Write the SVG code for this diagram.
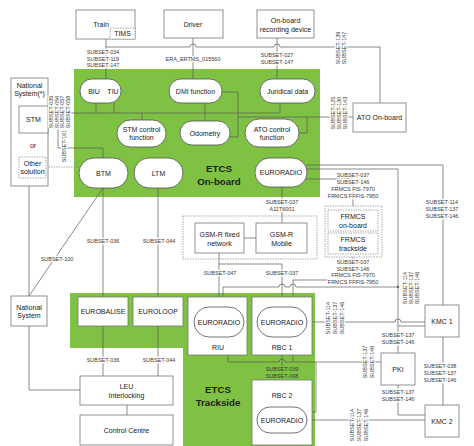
<svg xmlns="http://www.w3.org/2000/svg" width="474" height="446" viewBox="0 0 474 446">
<style>
text{font-family:"Liberation Sans",Arial,sans-serif;fill:#222;text-anchor:middle;dominant-baseline:central}
.n{font-size:7px}
.b{font-size:9.7px;font-weight:bold;fill:#1e1e1e}
.l{font-size:5.5px;fill:#3a3a3a;stroke:#fff;stroke-width:2.4px;paint-order:stroke;stroke-linejoin:round}
.lg{stroke:#7ec143}
.box{fill:#fff;stroke:#777;stroke-width:0.8}
.pill{fill:#fff;stroke:#505050;stroke-width:0.8}
.dash{fill:#fff;stroke:#888;stroke-width:0.7;stroke-dasharray:1.5 1}
.dashn{fill:none;stroke:#888;stroke-width:0.7;stroke-dasharray:1.5 1}
.c{fill:none;stroke:#5a5a5a;stroke-width:0.7}
.green{fill:#7ec143}
</style>
<rect width="474" height="446" fill="#fff"/>

<g id="etcs-onboard">
<rect class="green" x="74" y="69" width="246" height="128"/>
<text class="b" x="219" y="168">ETCS</text>
<text class="b" x="219" y="181">On-board</text>
</g>
<g id="etcs-trackside">
<path class="green" d="M70,293 H315 V446 H183 V348 H70 Z"/>
<text class="b" x="218" y="389">ETCS</text>
<text class="b" x="218" y="402">Trackside</text>
</g>

<g id="connectors">
<path class="c" d="M106,39 V79"/>
<path class="c" d="M106,47 H190 a3,3 0 0 1 6,0 H274 a3,3 0 0 1 6,0 H380 V103"/>
<path class="c" d="M193,38 V79"/>
<path class="c" d="M277,38 V79"/>
<path class="c" d="M48,113 H280 V103"/>
<path class="c" d="M96,103 V113 M114,103 V113"/>
<path class="c" d="M142,113 V120"/>
<path class="c" d="M205,103 V121"/>
<path class="c" d="M222,92 H238 V137 H230"/>
<path class="c" d="M238,117 H353"/>
<path class="c" d="M299,133 H307 V117"/>
<path class="c" d="M48,128 H58 V148 H103 V158"/>
<path class="dashn" d="M46,167 H79"/>
<path class="c" d="M29,186 V296"/>
<path class="c" d="M103,188 L29,296"/>
<path class="c" d="M103,188 V297 M103,326 V376"/>
<path class="c" d="M158,188 V297 M158,326 V376"/>
<path class="c" d="M29,326 V390 H80"/>
<path class="c" d="M127,405 V415"/>
<path class="c" d="M282,187 V223"/>
<path class="c" d="M244,238 H256"/>
<path class="c" d="M219,253 V307"/>
<path class="c" d="M219,264 H282 V307"/>
<path class="c" d="M306,165 H443 V305"/>
<path class="c" d="M306,169 H398 V353"/>
<path class="c" d="M425,326 H398"/>
<path class="c" d="M223,307 V287 H279 a3,3 0 0 1 6,0 H290 a3,3 0 0 1 6,0 H398"/>
<circle cx="398" cy="287" r="1.2" fill="#5a5a5a"/>
<path class="c" d="M306,179 H353 V206"/>
<path class="c" d="M353,257 V280 H293 V307"/>
<path class="c" d="M307,322 H395 a3,3 0 0 1 6,0 H425"/>
<path class="c" d="M228,355 V362 H279 a3,3 0 0 1 6,0 H381"/>
<path class="c" d="M293,355 V362 M312,412 H316 V362"/>
<path class="c" d="M282,355 V380"/>
<path class="c" d="M307,420 H425"/>
<path class="c" d="M398,385 V415 H425"/>
<path class="c" d="M443,337 V405"/>
</g>

<g id="train">
<rect class="box" x="76" y="10" width="59" height="29"/>
<text class="n" x="101" y="24">Train</text>
<rect class="dash" x="110" y="28" width="25" height="11"/>
<text class="n" x="122.5" y="33.5">TIMS</text>
</g>
<g id="driver">
<rect class="box" x="164" y="10" width="59" height="28"/>
<text class="n" x="193" y="24">Driver</text>
</g>
<g id="recording">
<rect class="box" x="257" y="10" width="57" height="28"/>
<text class="n" x="285.5" y="20.5">On-board</text>
<text class="n" x="285.5" y="29">recording device</text>
</g>
<g id="national-star">
<rect class="box" x="11" y="78" width="37" height="108"/>
<text class="n" x="29.5" y="85">National</text>
<text class="n" x="29.5" y="93">System(*)</text>
<text class="n" x="33" y="145">or</text>
</g>
<g id="stm">
<rect class="box" x="19" y="106" width="29" height="27"/>
<text class="n" x="33.5" y="119.5">STM</text>
</g>
<g id="other-solution">
<rect class="dash" x="19" y="157" width="27" height="21"/>
<text class="n" x="32.5" y="163.5">Other</text>
<text class="n" x="32.5" y="171.5">solution</text>
</g>
<g id="biu-tiu">
<rect class="pill" x="80" y="79" width="41" height="24" rx="12"/>
<text class="n" x="94" y="91">BIU</text>
<text class="n" x="113" y="91">TIU</text>
</g>
<g id="dmi">
<rect class="pill" x="169" y="79" width="53" height="24" rx="12"/>
<text class="n" x="195.5" y="91">DMI function</text>
</g>
<g id="juridical">
<rect class="pill" x="260" y="79" width="55" height="24" rx="12"/>
<text class="n" x="287.5" y="91">Juridical data</text>
</g>
<g id="stm-control">
<rect class="pill" x="117" y="120" width="49" height="27" rx="13.5"/>
<text class="n" x="141.5" y="129.5">STM control</text>
<text class="n" x="141.5" y="137.5">function</text>
</g>
<g id="odometry">
<rect class="pill" x="180" y="121" width="50" height="24" rx="12"/>
<text class="n" x="205" y="133">Odometry</text>
</g>
<g id="ato-control">
<rect class="pill" x="245" y="119" width="54" height="28" rx="14"/>
<text class="n" x="272" y="129">ATO control</text>
<text class="n" x="272" y="137.5">function</text>
</g>
<g id="ato-onboard">
<rect class="box" x="353" y="103" width="53" height="29"/>
<text class="n" x="379.5" y="117.5">ATO On-board</text>
</g>
<g id="btm">
<rect class="pill" x="79" y="158" width="49" height="30" rx="15"/>
<text class="n" x="103.5" y="173">BTM</text>
</g>
<g id="ltm">
<rect class="pill" x="134" y="158" width="49" height="30" rx="15"/>
<text class="n" x="158.5" y="173">LTM</text>
</g>
<g id="euroradio-onboard">
<rect class="pill" x="255" y="158" width="52" height="29" rx="14.5"/>
<text class="n" x="281" y="172.5">EURORADIO</text>
</g>
<g id="gsmr">
<rect class="dashn" x="183" y="216" width="134" height="43"/>
<rect class="box" x="195" y="223" width="49" height="30"/>
<text class="n" x="219.5" y="234">GSM-R fixed</text>
<text class="n" x="219.5" y="243">network</text>
<rect class="box" x="256" y="223" width="51" height="30"/>
<text class="n" x="281.5" y="234">GSM-R</text>
<text class="n" x="281.5" y="243">Mobile</text>
</g>
<g id="frmcs">
<rect class="dashn" x="325" y="206" width="57" height="51"/>
<rect class="dash" x="328" y="210" width="50" height="21"/>
<text class="n" x="353" y="216.5">FRMCS</text>
<text class="n" x="353" y="225">on-board</text>
<rect class="dash" x="328" y="233" width="50" height="21"/>
<text class="n" x="353" y="239.5">FRMCS</text>
<text class="n" x="353" y="248">trackside</text>
</g>
<g id="national">
<rect class="box" x="11" y="296" width="36" height="30"/>
<text class="n" x="29" y="307">National</text>
<text class="n" x="29" y="315.5">System</text>
</g>
<g id="eurobalise">
<rect class="box" x="78" y="297" width="50" height="29"/>
<text class="n" x="103" y="311.5">EUROBALISE</text>
</g>
<g id="euroloop">
<rect class="box" x="133" y="297" width="50" height="29"/>
<text class="n" x="158" y="311.5">EUROLOOP</text>
</g>
<g id="leu">
<rect class="box" x="80" y="376" width="93" height="29"/>
<text class="n" x="126.5" y="386.5">LEU</text>
<text class="n" x="126.5" y="395.5">Interlocking</text>
</g>
<g id="control-centre">
<rect class="box" x="80" y="415" width="93" height="30"/>
<text class="n" x="126.5" y="430">Control Centre</text>
</g>
<g id="riu">
<rect class="box" x="188" y="297" width="59" height="58"/>
<rect class="pill" x="194" y="307" width="50" height="30" rx="15"/>
<text class="n" x="219" y="322">EURORADIO</text>
<text class="n" x="218" y="347">RIU</text>
</g>
<g id="rbc1">
<rect class="box" x="252" y="297" width="60" height="58"/>
<rect class="pill" x="257" y="307" width="50" height="30" rx="15"/>
<text class="n" x="282" y="322">EURORADIO</text>
<text class="n" x="282" y="347">RBC 1</text>
</g>
<g id="rbc2">
<rect class="box" x="252" y="380" width="60" height="65"/>
<text class="n" x="282" y="395">RBC 2</text>
<rect class="pill" x="257" y="407" width="50" height="26" rx="13"/>
<text class="n" x="282" y="420">EURORADIO</text>
</g>
<g id="pki">
<rect class="box" x="381" y="353" width="34" height="32"/>
<text class="n" x="398" y="369">PKI</text>
</g>
<g id="kmc1">
<rect class="box" x="425" y="305" width="34" height="32"/>
<text class="n" x="442" y="321">KMC 1</text>
</g>
<g id="kmc2">
<rect class="box" x="425" y="405" width="34" height="32"/>
<text class="n" x="442" y="421">KMC 2</text>
</g>

<g id="labels">
<text class="l" x="103" y="52">SUBSET-034</text>
<text class="l" x="103" y="58.5">SUBSET-119</text>
<text class="l" x="103" y="65">SUBSET-147</text>
<text class="l" x="193" y="59">ERA_ERTMS_015560</text>
<text class="l" x="277" y="55">SUBSET-027</text>
<text class="l" x="277" y="62">SUBSET-147</text>
<text class="l" transform="translate(338,48) rotate(-90)">SUBSET-139</text>
<text class="l" transform="translate(344,48) rotate(-90)">SUBSET-147</text>
<text class="l" transform="translate(51,112) rotate(-90)">SUBSET-035</text>
<text class="l" transform="translate(56.5,112) rotate(-90)">SUBSET-056</text>
<text class="l" transform="translate(62,112) rotate(-90)">SUBSET-057</text>
<text class="l" transform="translate(67.5,112) rotate(-90)">SUBSET-058</text>
<text class="l" transform="translate(64,146) rotate(-90)">SUBSET-101</text>
<text class="l" transform="translate(333,113) rotate(-90)">SUBSET-125</text>
<text class="l" transform="translate(339,113) rotate(-90)">SUBSET-130</text>
<text class="l" transform="translate(345,113) rotate(-90)">SUBSET-143</text>
<text class="l" x="103" y="241">SUBSET-036</text>
<text class="l" x="159" y="241">SUBSET-044</text>
<text class="l" x="57" y="259">SUBSET-100</text>
<text class="l" x="103" y="360">SUBSET-036</text>
<text class="l" x="159" y="360">SUBSET-044</text>
<text class="l" x="282" y="202">SUBSET-037</text>
<text class="l" x="282" y="209">A11T6001</text>
<text class="l" x="220" y="273">SUBSET-047</text>
<text class="l" x="282" y="273">SUBSET-037</text>
<text class="l" x="353" y="175">SUBSET-037</text>
<text class="l" x="353" y="182">SUBSET-146</text>
<text class="l" x="353" y="189">FRMCS FIS-7970</text>
<text class="l" x="353" y="196">FRMCS FFFIS-7950</text>
<text class="l" x="353" y="262">SUBSET-037</text>
<text class="l" x="353" y="268.5">SUBSET-146</text>
<text class="l" x="353" y="275">FRMCS FIS-7970</text>
<text class="l" x="353" y="281.5">FRMCS FFFIS-7950</text>
<text class="l" x="442" y="202">SUBSET-114</text>
<text class="l" x="442" y="209">SUBSET-137</text>
<text class="l" x="442" y="216">SUBSET-146</text>
<text class="l" transform="translate(405,288) rotate(-90)">SUBSET-114</text>
<text class="l" transform="translate(411,288) rotate(-90)">SUBSET-137</text>
<text class="l" transform="translate(417,288) rotate(-90)">SUBSET-146</text>
<text class="l" transform="translate(328,318) rotate(-90)">SUBSET-114</text>
<text class="l" transform="translate(335,318) rotate(-90)">SUBSET-137</text>
<text class="l" transform="translate(342,318) rotate(-90)">SUBSET-146</text>
<text class="l" x="398" y="335">SUBSET-137</text>
<text class="l" x="398" y="342">SUBSET-146</text>
<text class="l lg" x="282" y="369">SUBSET-039</text>
<text class="l lg" x="282" y="376">SUBSET-098</text>
<text class="l" transform="translate(365,362) rotate(-90)">SUBSET-137</text>
<text class="l" transform="translate(372,362) rotate(-90)">SUBSET-146</text>
<text class="l" x="398" y="392">SUBSET-137</text>
<text class="l" x="398" y="399">SUBSET-146</text>
<text class="l" x="440" y="366">SUBSET-038</text>
<text class="l" x="440" y="373">SUBSET-137</text>
<text class="l" x="440" y="380">SUBSET-146</text>
<text class="l" transform="translate(352,425) rotate(-90)">SUBSET-114</text>
<text class="l" transform="translate(359,425) rotate(-90)">SUBSET-137</text>
<text class="l" transform="translate(366,425) rotate(-90)">SUBSET-146</text>
</g>
</svg>
